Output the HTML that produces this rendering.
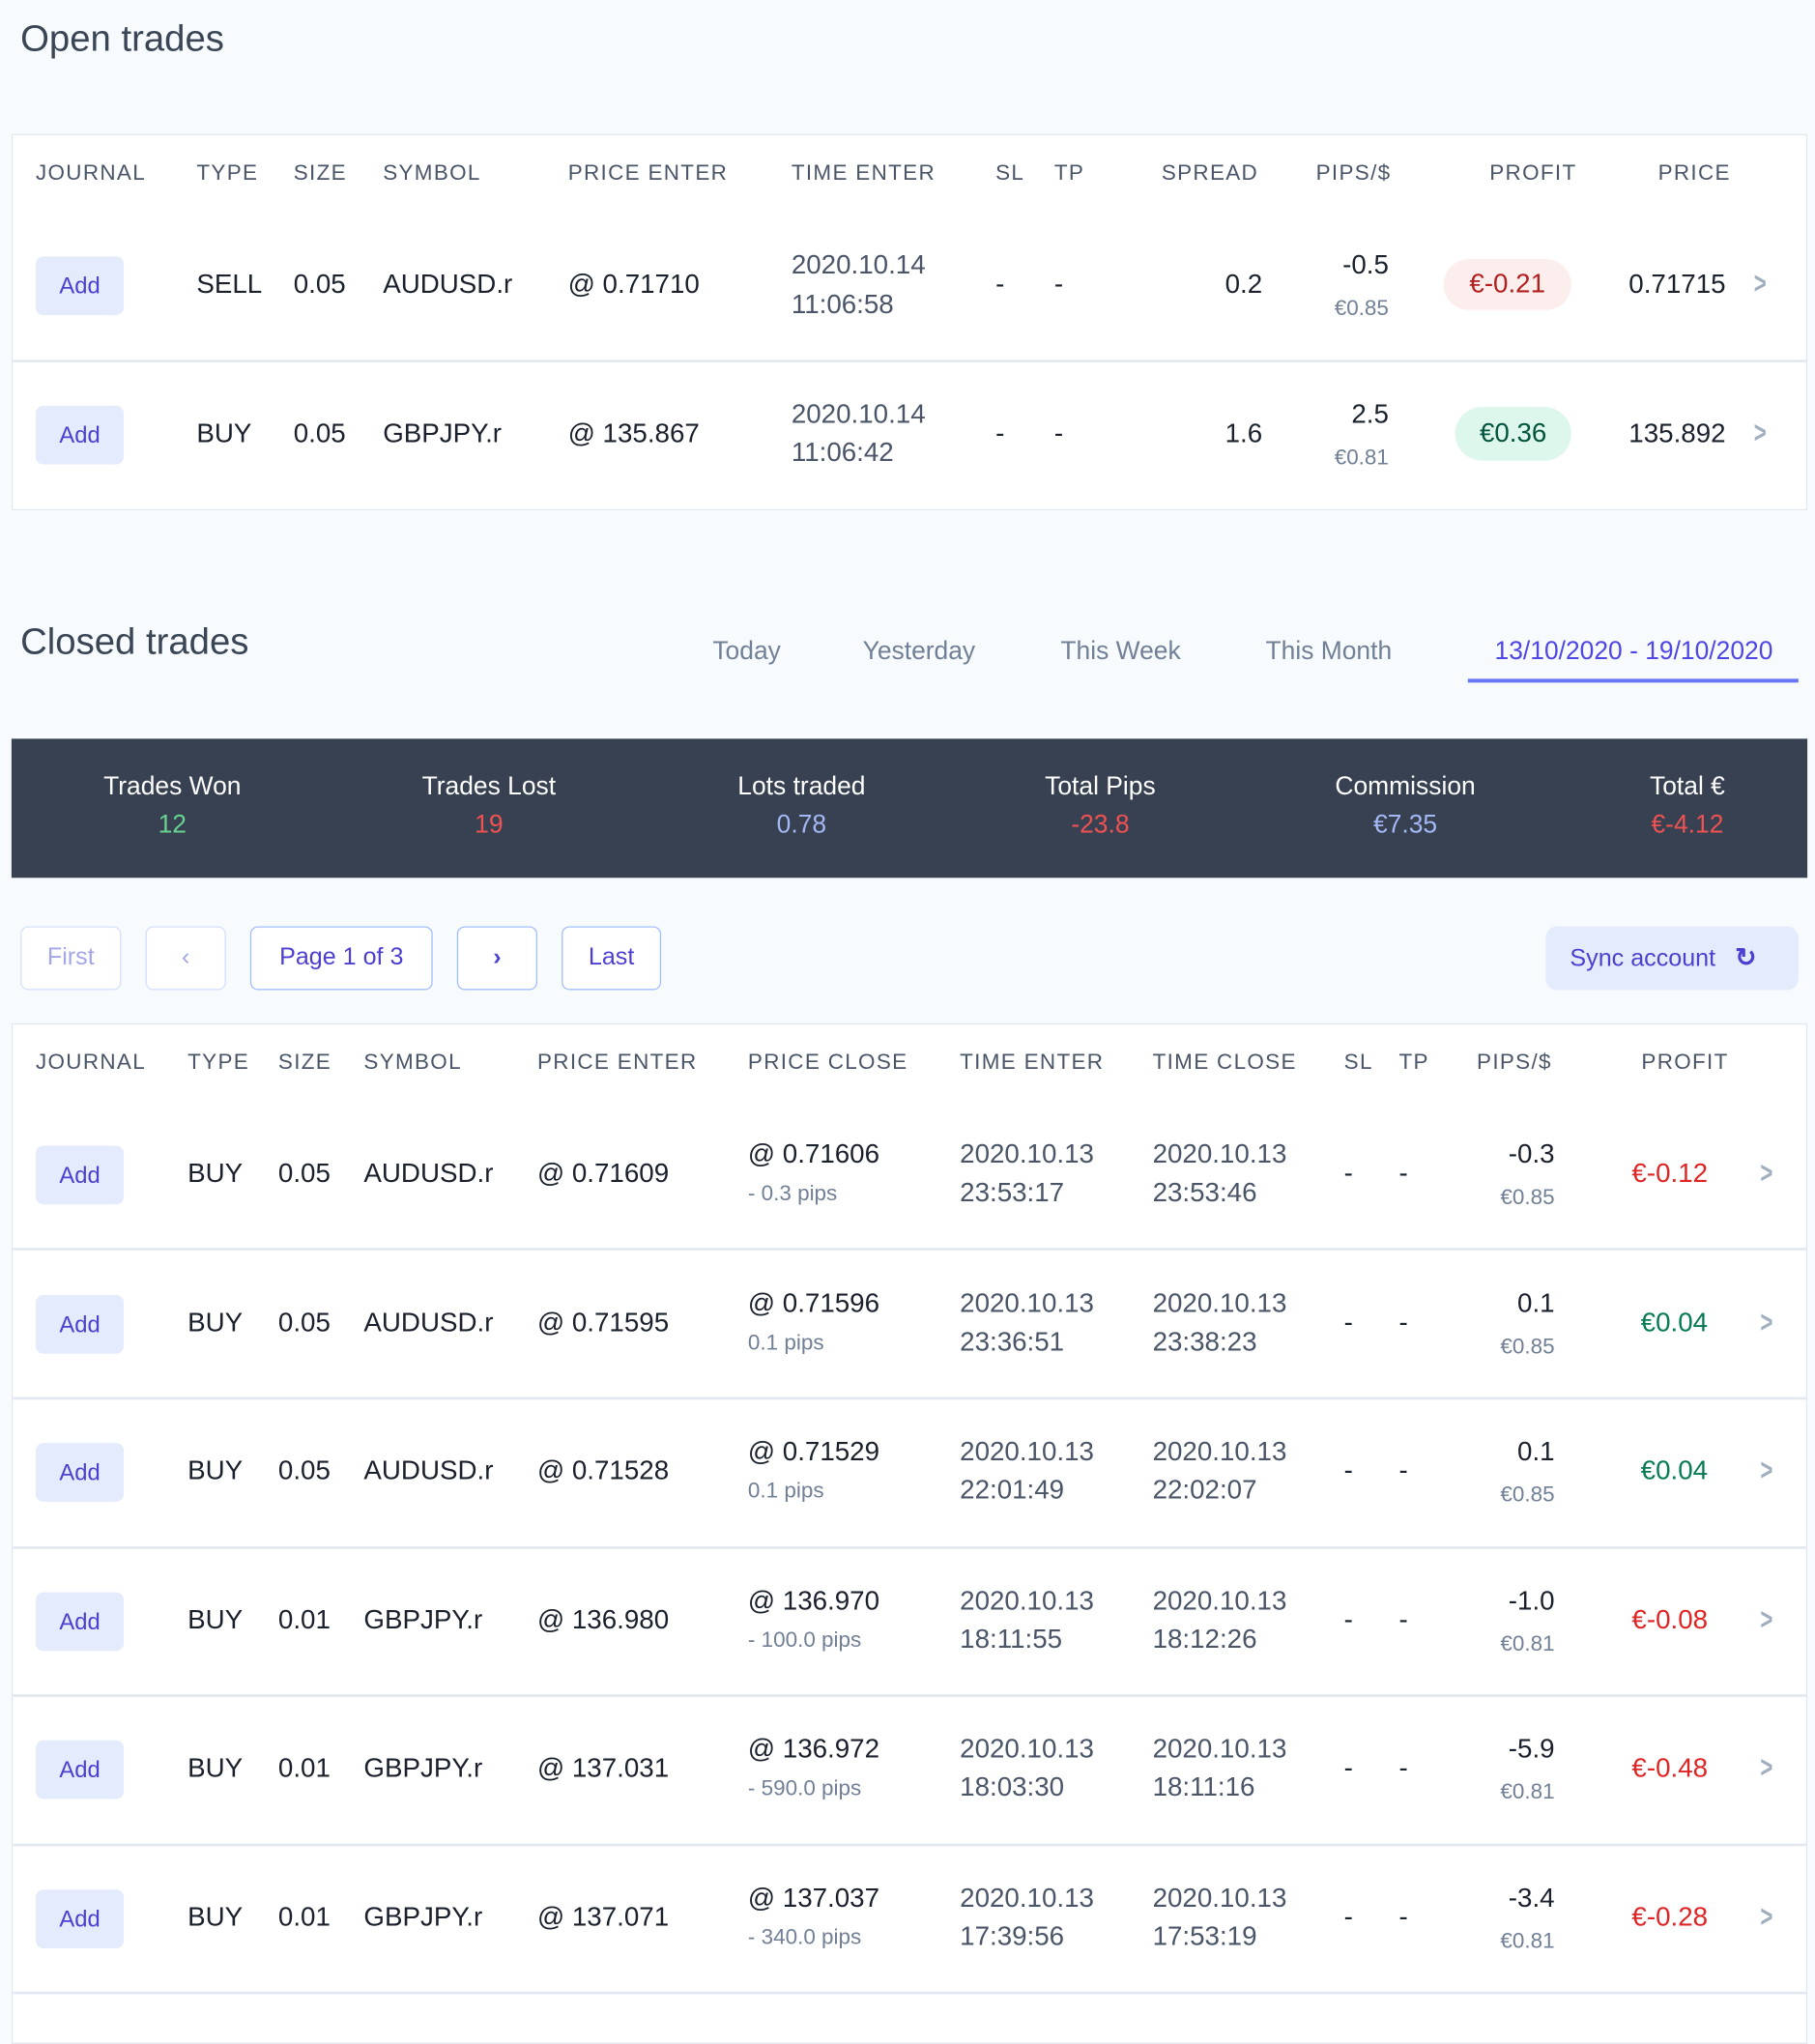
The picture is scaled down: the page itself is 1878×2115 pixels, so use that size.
<!DOCTYPE html>
<html><head><meta charset="utf-8">
<style>
html,body{margin:0;padding:0;background:#f7fbfd;overflow:hidden;width:1878px;height:2070px}
#c{position:absolute;left:0;top:0;width:1422px;height:1568px;transform:scale(1.32068,1.3202);transform-origin:0 0;font-family:"Liberation Sans",sans-serif;color:#1a202c}
.a{position:absolute;white-space:nowrap;transform:translateY(-50%);line-height:1.2}
.r{text-align:right}
.h{font-size:17px;letter-spacing:1px;color:#4a5568}
.v{font-size:21px;color:#1a202c}
.g{color:#4a5568}
.s{font-size:17px;color:#718096}
.box{position:absolute;background:#fff;border:1.5px solid #e2e8f0;box-sizing:border-box}
.line{position:absolute;height:2px;background:#e2e8f0}
.add{position:absolute;width:69px;height:46px;background:#e4ebfd;border-radius:6px;color:#4c3fd1;font-size:18px;text-align:center;line-height:46px}
.chev{position:absolute;font-size:24px;color:#a0aec0;transform:translateY(-50%) scaleX(0.7);font-weight:bold}
.btn{position:absolute;top:726px;height:50px;box-sizing:border-box;border:1.5px solid #a3bffa;border-radius:6px;background:#fff;color:#4c3fd1;font-size:19px;text-align:center;line-height:47px}
.st{position:absolute;top:617px;transform:translate(-50%,-50%);color:#fff;font-size:20px;white-space:nowrap}
.sv{position:absolute;top:647px;transform:translate(-50%,-50%);font-size:20px;white-space:nowrap}
.tab{position:absolute;top:511px;transform:translate(-50%,-50%);font-size:20px;color:#718096;white-space:nowrap}
</style></head><body><div id="c">

<div class="a" style="left:16px;top:31px;font-size:29px;color:#3a4556">Open trades</div>

<div class="box" style="left:9px;top:105px;width:1407px;height:295px"></div>
<div class="line" style="left:10px;top:282px;width:1405px"></div>

<div class="a h" style="left:28px;top:136px">JOURNAL</div>
<div class="a h" style="left:154px;top:136px">TYPE</div>
<div class="a h" style="left:230px;top:136px">SIZE</div>
<div class="a h" style="left:300px;top:136px">SYMBOL</div>
<div class="a h" style="left:445px;top:136px">PRICE ENTER</div>
<div class="a h" style="left:620px;top:136px">TIME ENTER</div>
<div class="a h" style="left:780px;top:136px">SL</div>
<div class="a h" style="left:826px;top:136px">TP</div>
<div class="a h" style="left:910px;top:136px">SPREAD</div>
<div class="a h" style="left:1031px;top:136px">PIPS/$</div>
<div class="a h" style="left:1167px;top:136px">PROFIT</div>
<div class="a h" style="left:1299px;top:136px">PRICE</div>

<!-- open row 1 -->
<div class="add" style="left:28px;top:201px">Add</div>
<div class="a v" style="left:154px;top:223px">SELL</div>
<div class="a v" style="left:230px;top:223px">0.05</div>
<div class="a v" style="left:300px;top:223px">AUDUSD.r</div>
<div class="a v" style="left:445px;top:223px">@ 0.71710</div>
<div class="a v g" style="left:620px;top:208px">2020.10.14</div>
<div class="a v g" style="left:620px;top:239px">11:06:58</div>
<div class="a v" style="left:780px;top:223px">-</div>
<div class="a v" style="left:826px;top:223px">-</div>
<div class="a v r" style="right:433px;top:223px">0.2</div>
<div class="a v r" style="right:334px;top:208px">-0.5</div>
<div class="a s r" style="right:334px;top:242px">€0.85</div>
<div style="position:absolute;left:1131px;top:203px;width:100px;height:40px;border-radius:20px;background:#fdeeee;color:#b21f1f;font-size:21px;text-align:center;line-height:40px">€-0.21</div>
<div class="a v r" style="right:70px;top:223px">0.71715</div>
<div class="chev" style="left:1372px;top:223px">&gt;</div>

<!-- open row 2 -->
<div class="add" style="left:28px;top:318px">Add</div>
<div class="a v" style="left:154px;top:340px">BUY</div>
<div class="a v" style="left:230px;top:340px">0.05</div>
<div class="a v" style="left:300px;top:340px">GBPJPY.r</div>
<div class="a v" style="left:445px;top:340px">@ 135.867</div>
<div class="a v g" style="left:620px;top:325px">2020.10.14</div>
<div class="a v g" style="left:620px;top:355px">11:06:42</div>
<div class="a v" style="left:780px;top:340px">-</div>
<div class="a v" style="left:826px;top:340px">-</div>
<div class="a v r" style="right:433px;top:340px">1.6</div>
<div class="a v r" style="right:334px;top:325px">2.5</div>
<div class="a s r" style="right:334px;top:359px">€0.81</div>
<div style="position:absolute;left:1140px;top:319px;width:91px;height:42px;border-radius:21px;background:#def7ec;color:#03543f;font-size:21px;text-align:center;line-height:42px">€0.36</div>
<div class="a v r" style="right:70px;top:340px">135.892</div>
<div class="chev" style="left:1372px;top:340px">&gt;</div>

<!-- closed header -->
<div class="a" style="left:16px;top:504px;font-size:29px;color:#3a4556">Closed trades</div>
<div class="tab" style="left:585px">Today</div>
<div class="tab" style="left:720px">Yesterday</div>
<div class="tab" style="left:878px">This Week</div>
<div class="tab" style="left:1041px">This Month</div>
<div class="tab" style="left:1280px;color:#4f46e5">13/10/2020 - 19/10/2020</div>
<div style="position:absolute;left:1150px;top:532px;width:259px;height:3px;background:#6875f5"></div>

<div style="position:absolute;left:9px;top:579px;width:1407px;height:109px;background:#374151"></div>
<div class="st" style="left:135px">Trades Won</div><div class="sv" style="left:135px;color:#68d391">12</div>
<div class="st" style="left:383px">Trades Lost</div><div class="sv" style="left:383px;color:#f05252">19</div>
<div class="st" style="left:628px">Lots traded</div><div class="sv" style="left:628px;color:#a4b8f6">0.78</div>
<div class="st" style="left:862px">Total Pips</div><div class="sv" style="left:862px;color:#f05252">-23.8</div>
<div class="st" style="left:1101px">Commission</div><div class="sv" style="left:1101px;color:#a4b8f6">€7.35</div>
<div class="st" style="left:1322px">Total €</div><div class="sv" style="left:1322px;color:#f05252">€-4.12</div>

<div class="btn" style="left:16px;width:79px;border-color:#d6e0fb;color:#a4a6e8">First</div>
<div class="btn" style="left:114px;width:63px;border-color:#d6e0fb;color:#a4a6e8">&#8249;</div>
<div class="btn" style="left:196px;width:143px">Page 1 of 3</div>
<div class="btn" style="left:358px;width:63px;font-weight:bold">&#8250;</div>
<div class="btn" style="left:440px;width:78px">Last</div>
<div style="position:absolute;left:1211px;top:726px;width:198px;height:50px;border-radius:9px;background:#e4ebfd;color:#4c3fd1;font-size:19px;line-height:50px;padding-left:19px;box-sizing:border-box">Sync account <span style="font-size:20px;font-weight:bold;margin-left:10px">&#8635;</span></div>

<div class="box" style="left:9px;top:802px;width:1407px;height:800px"></div>
<div class="line" style="left:10px;top:978px;width:1405px"></div>
<div class="line" style="left:10px;top:1095px;width:1405px"></div>
<div class="line" style="left:10px;top:1212px;width:1405px"></div>
<div class="line" style="left:10px;top:1328px;width:1405px"></div>
<div class="line" style="left:10px;top:1445px;width:1405px"></div>
<div class="line" style="left:10px;top:1561px;width:1405px"></div>

<div class="a h" style="left:28px;top:833px">JOURNAL</div>
<div class="a h" style="left:147px;top:833px">TYPE</div>
<div class="a h" style="left:218px;top:833px">SIZE</div>
<div class="a h" style="left:285px;top:833px">SYMBOL</div>
<div class="a h" style="left:421px;top:833px">PRICE ENTER</div>
<div class="a h" style="left:586px;top:833px">PRICE CLOSE</div>
<div class="a h" style="left:752px;top:833px">TIME ENTER</div>
<div class="a h" style="left:903px;top:833px">TIME CLOSE</div>
<div class="a h" style="left:1053px;top:833px">SL</div>
<div class="a h" style="left:1096px;top:833px">TP</div>
<div class="a h" style="left:1157px;top:833px">PIPS/$</div>
<div class="a h" style="left:1286px;top:833px">PROFIT</div>

<!-- row 1 -->
<div class="add" style="left:28px;top:898px">Add</div>
<div class="a v" style="left:147px;top:920px">BUY</div>
<div class="a v" style="left:218px;top:920px">0.05</div>
<div class="a v" style="left:285px;top:920px">AUDUSD.r</div>
<div class="a v" style="left:421px;top:920px">@ 0.71609</div>
<div class="a v" style="left:586px;top:905px">@ 0.71606</div>
<div class="a s g" style="left:586px;top:936px">- 0.3 pips</div>
<div class="a v g" style="left:752px;top:905px">2020.10.13</div>
<div class="a v g" style="left:752px;top:935px">23:53:17</div>
<div class="a v g" style="left:903px;top:905px">2020.10.13</div>
<div class="a v g" style="left:903px;top:935px">23:53:46</div>
<div class="a v" style="left:1053px;top:920px">-</div>
<div class="a v" style="left:1096px;top:920px">-</div>
<div class="a v r" style="right:204px;top:905px">-0.3</div>
<div class="a s r" style="right:204px;top:939px">€0.85</div>
<div class="a v r" style="right:84px;top:920px;color:#e02424">€-0.12</div>
<div class="chev" style="left:1377px;top:920px">&gt;</div>

<!-- row 2 -->
<div class="add" style="left:28px;top:1015px">Add</div>
<div class="a v" style="left:147px;top:1037px">BUY</div>
<div class="a v" style="left:218px;top:1037px">0.05</div>
<div class="a v" style="left:285px;top:1037px">AUDUSD.r</div>
<div class="a v" style="left:421px;top:1037px">@ 0.71595</div>
<div class="a v" style="left:586px;top:1022px">@ 0.71596</div>
<div class="a s g" style="left:586px;top:1053px">0.1 pips</div>
<div class="a v g" style="left:752px;top:1022px">2020.10.13</div>
<div class="a v g" style="left:752px;top:1052px">23:36:51</div>
<div class="a v g" style="left:903px;top:1022px">2020.10.13</div>
<div class="a v g" style="left:903px;top:1052px">23:38:23</div>
<div class="a v" style="left:1053px;top:1037px">-</div>
<div class="a v" style="left:1096px;top:1037px">-</div>
<div class="a v r" style="right:204px;top:1022px">0.1</div>
<div class="a s r" style="right:204px;top:1056px">€0.85</div>
<div class="a v r" style="right:84px;top:1037px;color:#057a55">€0.04</div>
<div class="chev" style="left:1377px;top:1037px">&gt;</div>

<!-- row 3 -->
<div class="add" style="left:28px;top:1131px">Add</div>
<div class="a v" style="left:147px;top:1153px">BUY</div>
<div class="a v" style="left:218px;top:1153px">0.05</div>
<div class="a v" style="left:285px;top:1153px">AUDUSD.r</div>
<div class="a v" style="left:421px;top:1153px">@ 0.71528</div>
<div class="a v" style="left:586px;top:1138px">@ 0.71529</div>
<div class="a s g" style="left:586px;top:1169px">0.1 pips</div>
<div class="a v g" style="left:752px;top:1138px">2020.10.13</div>
<div class="a v g" style="left:752px;top:1168px">22:01:49</div>
<div class="a v g" style="left:903px;top:1138px">2020.10.13</div>
<div class="a v g" style="left:903px;top:1168px">22:02:07</div>
<div class="a v" style="left:1053px;top:1153px">-</div>
<div class="a v" style="left:1096px;top:1153px">-</div>
<div class="a v r" style="right:204px;top:1138px">0.1</div>
<div class="a s r" style="right:204px;top:1172px">€0.85</div>
<div class="a v r" style="right:84px;top:1153px;color:#057a55">€0.04</div>
<div class="chev" style="left:1377px;top:1153px">&gt;</div>

<!-- row 4 -->
<div class="add" style="left:28px;top:1248px">Add</div>
<div class="a v" style="left:147px;top:1270px">BUY</div>
<div class="a v" style="left:218px;top:1270px">0.01</div>
<div class="a v" style="left:285px;top:1270px">GBPJPY.r</div>
<div class="a v" style="left:421px;top:1270px">@ 136.980</div>
<div class="a v" style="left:586px;top:1255px">@ 136.970</div>
<div class="a s g" style="left:586px;top:1286px">- 100.0 pips</div>
<div class="a v g" style="left:752px;top:1255px">2020.10.13</div>
<div class="a v g" style="left:752px;top:1285px">18:11:55</div>
<div class="a v g" style="left:903px;top:1255px">2020.10.13</div>
<div class="a v g" style="left:903px;top:1285px">18:12:26</div>
<div class="a v" style="left:1053px;top:1270px">-</div>
<div class="a v" style="left:1096px;top:1270px">-</div>
<div class="a v r" style="right:204px;top:1255px">-1.0</div>
<div class="a s r" style="right:204px;top:1289px">€0.81</div>
<div class="a v r" style="right:84px;top:1270px;color:#e02424">€-0.08</div>
<div class="chev" style="left:1377px;top:1270px">&gt;</div>

<!-- row 5 -->
<div class="add" style="left:28px;top:1364px">Add</div>
<div class="a v" style="left:147px;top:1386px">BUY</div>
<div class="a v" style="left:218px;top:1386px">0.01</div>
<div class="a v" style="left:285px;top:1386px">GBPJPY.r</div>
<div class="a v" style="left:421px;top:1386px">@ 137.031</div>
<div class="a v" style="left:586px;top:1371px">@ 136.972</div>
<div class="a s g" style="left:586px;top:1402px">- 590.0 pips</div>
<div class="a v g" style="left:752px;top:1371px">2020.10.13</div>
<div class="a v g" style="left:752px;top:1401px">18:03:30</div>
<div class="a v g" style="left:903px;top:1371px">2020.10.13</div>
<div class="a v g" style="left:903px;top:1401px">18:11:16</div>
<div class="a v" style="left:1053px;top:1386px">-</div>
<div class="a v" style="left:1096px;top:1386px">-</div>
<div class="a v r" style="right:204px;top:1371px">-5.9</div>
<div class="a s r" style="right:204px;top:1405px">€0.81</div>
<div class="a v r" style="right:84px;top:1386px;color:#e02424">€-0.48</div>
<div class="chev" style="left:1377px;top:1386px">&gt;</div>

<!-- row 6 -->
<div class="add" style="left:28px;top:1481px">Add</div>
<div class="a v" style="left:147px;top:1503px">BUY</div>
<div class="a v" style="left:218px;top:1503px">0.01</div>
<div class="a v" style="left:285px;top:1503px">GBPJPY.r</div>
<div class="a v" style="left:421px;top:1503px">@ 137.071</div>
<div class="a v" style="left:586px;top:1488px">@ 137.037</div>
<div class="a s g" style="left:586px;top:1519px">- 340.0 pips</div>
<div class="a v g" style="left:752px;top:1488px">2020.10.13</div>
<div class="a v g" style="left:752px;top:1518px">17:39:56</div>
<div class="a v g" style="left:903px;top:1488px">2020.10.13</div>
<div class="a v g" style="left:903px;top:1518px">17:53:19</div>
<div class="a v" style="left:1053px;top:1503px">-</div>
<div class="a v" style="left:1096px;top:1503px">-</div>
<div class="a v r" style="right:204px;top:1488px">-3.4</div>
<div class="a s r" style="right:204px;top:1522px">€0.81</div>
<div class="a v r" style="right:84px;top:1503px;color:#e02424">€-0.28</div>
<div class="chev" style="left:1377px;top:1503px">&gt;</div>

</div></body></html>
